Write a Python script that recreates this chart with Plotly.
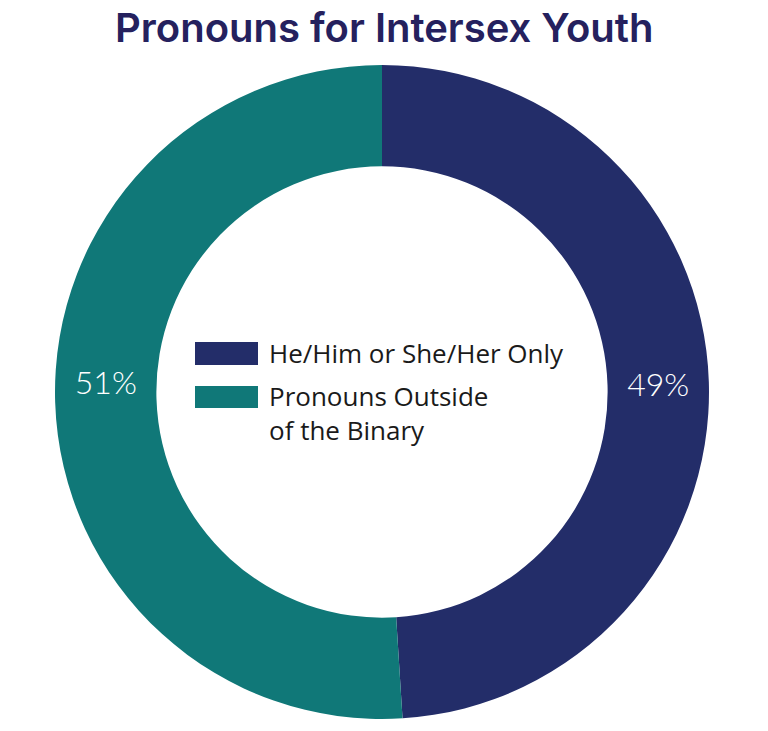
import plotly.graph_objects as go

labels = ["He/Him or She/Her Only", "Pronouns Outside of the Binary"]
values = [49, 51]
colors = ["#232D69", "#107878"]
legend_text = ["He/Him or She/Her Only", "Pronouns Outside<br>of the Binary"]

W, H = 768, 731
cx, cy, R = 382, 392, 327

fig = go.Figure(go.Pie(
    labels=labels,
    values=values,
    sort=False,
    direction="clockwise",
    rotation=0,
    hole=0.69,
    marker=dict(colors=colors, line=dict(width=0)),
    texttemplate=["%{value}%",
                  "%{value}%<br><span style='font-size:14px'>&nbsp;</span>"],
    textposition="inside",
    insidetextorientation="horizontal",
    textfont=dict(family="Lato", size=32, color="white", weight=300),
    domain=dict(x=[(cx - R) / W, (cx + R) / W], y=[(H - cy - R) / H, (H - cy + R) / H]),
    showlegend=False,
    hoverinfo="label+percent",
))

shapes = []
annotations = []
rects = [(342, 365), (386, 408)]
text_y = [353, 397]
for i in range(2):
    y0, y1 = rects[i]
    shapes.append(dict(type="rect", xref="paper", yref="paper",
                       x0=195 / W, x1=258 / W, y0=1 - y1 / H, y1=1 - y0 / H,
                       fillcolor=colors[i], line=dict(width=0)))
    annotations.append(dict(xref="paper", yref="paper", x=267 / W, y=1 - text_y[i] / H,
                            xanchor="left", yanchor="top" if i == 1 else "middle",
                            yshift=21 if i == 1 else 0,
                            text=legend_text[i], showarrow=False, align="left",
                            font=dict(family="Open Sans", size=26, color="#1a1a1a")))

annotations.append(dict(xref="paper", yref="paper", x=384 / W, y=1 - 27 / H,
                        xanchor="center", yanchor="middle", showarrow=False,
                        text="Pronouns for Intersex Youth",
                        font=dict(family="Inter", size=40, color="#25215E", weight=600)))

fig.update_layout(
    width=W, height=H,
    margin=dict(l=0, r=0, t=0, b=0),
    paper_bgcolor="white",
    plot_bgcolor="white",
    shapes=shapes,
    annotations=annotations,
)

fig.write_html("out.html", config={"displayModeBar": False},
               post_script="document.body.style.margin='0';")
